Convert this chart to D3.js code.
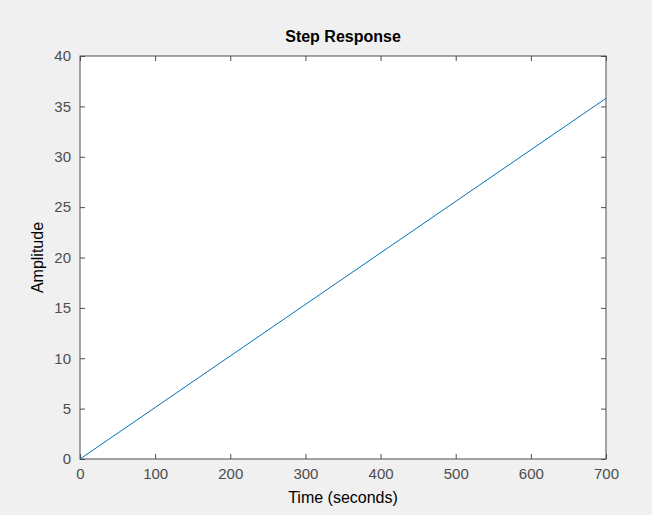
<!DOCTYPE html>
<html><head><script src="https://cdn.jsdelivr.net/npm/d3@7"></script>
<style>body{margin:0;background:#f0f0f0}text{font-family:Arial,"Liberation Sans",sans-serif}</style></head>
<body><svg id="c" width="652" height="515"></svg>
<script>
const times = [0, 700];
const amplitudes = [0, 35.8];
const xTicks = [0,100,200,300,400,500,600,700];
const yTicks = [0,5,10,15,20,25,30,35,40];
const title = "Step Response", xLabel = "Time (seconds)", yLabel = "Amplitude";

const svg = d3.select("#c");
const L=80,R=606,T=56,B=459;
const x=d3.scaleLinear().domain([0,700]).range([L,R]);
const y=d3.scaleLinear().domain([0,40]).range([B,T]);
svg.append("rect").attr("x",L).attr("y",T).attr("width",R-L).attr("height",B-T).attr("fill","#fff");
const col="#4d4d4d";
function style(g){g.select(".domain").remove();g.selectAll("line").attr("stroke",col);g.selectAll("text").attr("fill",col).attr("font-size",15);}
svg.append("g").attr("transform",`translate(0,${B})`).call(d3.axisBottom(x).tickValues(xTicks).tickSizeInner(-5).tickSizeOuter(0).tickPadding(9)).call(style);
svg.append("g").attr("transform",`translate(0,${T})`).call(d3.axisTop(x).tickValues(xTicks).tickSizeInner(-5).tickFormat("")).call(style);
svg.append("g").attr("transform",`translate(${L},0)`).call(d3.axisLeft(y).tickValues(yTicks).tickSizeInner(-5).tickPadding(9)).call(style);
svg.append("g").attr("transform",`translate(${R},0)`).call(d3.axisRight(y).tickValues(yTicks).tickSizeInner(-5).tickFormat("")).call(style);
svg.append("rect").attr("x",L).attr("y",T).attr("width",R-L).attr("height",B-T).attr("fill","none").attr("stroke",col);
svg.append("path").datum(times.map((t,i)=>[t,amplitudes[i]])).attr("d",d3.line().x(d=>x(d[0])).y(d=>y(d[1]))).attr("fill","none").attr("stroke","#0072bd").attr("stroke-width",1);
svg.append("text").attr("x",(L+R)/2).attr("y",42).attr("text-anchor","middle").attr("font-size",16).attr("font-weight","bold").attr("fill","#000").text(title);
svg.append("text").attr("x",(L+R)/2).attr("y",503).attr("text-anchor","middle").attr("font-size",16).attr("fill","#000").text(xLabel);
svg.append("text").attr("transform",`translate(43,${(T+B)/2}) rotate(-90)`).attr("text-anchor","middle").attr("font-size",16).attr("fill","#000").text(yLabel);
</script></body></html>
